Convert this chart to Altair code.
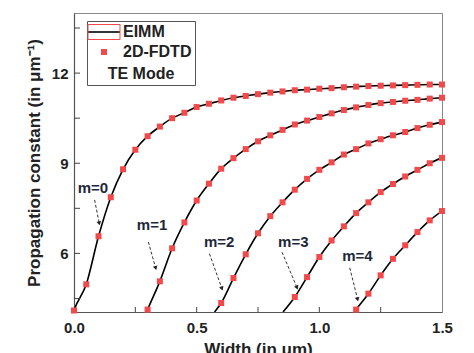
import altair as alt
import pandas as pd

FONT = "Liberation Sans"
RED = "#f24a4a"

# ---- 2D-FDTD markers ----
m0_x = [0.00, 0.05, 0.10, 0.15, 0.20, 0.25, 0.30, 0.35, 0.40, 0.45, 0.50, 0.55, 0.60, 0.65, 0.70, 0.75,
        0.80, 0.85, 0.90, 0.95, 1.00, 1.05, 1.10, 1.15, 1.20, 1.25, 1.30, 1.35, 1.40, 1.45, 1.50]
m0_y = [4.10, 4.97, 6.57, 7.87, 8.80, 9.45, 9.90, 10.22, 10.50, 10.68, 10.87, 10.98, 11.09, 11.18, 11.24, 11.30,
        11.35, 11.39, 11.43, 11.45, 11.48, 11.50, 11.53, 11.55, 11.57, 11.58, 11.59, 11.60, 11.61, 11.62, 11.62]

m1_x = [0.30, 0.35, 0.40, 0.45, 0.50, 0.55, 0.60, 0.65, 0.70, 0.75, 0.80, 0.85, 0.90, 0.95, 1.00, 1.05,
        1.10, 1.15, 1.20, 1.25, 1.30, 1.35, 1.40, 1.45, 1.50]
m1_y = [4.13, 5.07, 6.17, 7.03, 7.76, 8.32, 8.82, 9.17, 9.47, 9.73, 9.93, 10.11, 10.29, 10.42, 10.54, 10.66,
        10.77, 10.86, 10.94, 11.00, 11.04, 11.08, 11.11, 11.15, 11.18]

m2_x = [0.60, 0.65, 0.70, 0.75, 0.80, 0.85, 0.90, 0.95, 1.00, 1.05, 1.10, 1.15, 1.20, 1.25, 1.30, 1.35,
        1.40, 1.45, 1.50]
m2_y = [4.35, 5.18, 5.97, 6.67, 7.24, 7.70, 8.12, 8.48, 8.78, 9.03, 9.29, 9.47, 9.66, 9.80, 9.93, 10.04,
        10.17, 10.28, 10.37]

m3_x = [0.90, 0.95, 1.00, 1.05, 1.10, 1.15, 1.20, 1.25, 1.30, 1.35, 1.40, 1.45, 1.50]
m3_y = [4.55, 5.21, 5.88, 6.43, 6.90, 7.34, 7.70, 8.04, 8.31, 8.56, 8.78, 9.00, 9.18]

m4_x = [1.15, 1.20, 1.25, 1.30, 1.35, 1.40, 1.45, 1.50]
m4_y = [4.13, 4.66, 5.27, 5.82, 6.27, 6.71, 7.10, 7.41]

# ---- EIMM curves: cutoff widths where each curve leaves the bottom of the frame ----
modes = ["m=0", "m=1", "m=2", "m=3", "m=4"]
cutoff_x = [-0.002, 0.296, 0.573, 0.852, 1.143]
cutoff_y = [4.05, 4.05, 4.05, 4.05, 4.05]

# ---- annotations ----
label_x = [0.077, 0.318, 0.592, 0.894, 1.155]
label_y = [8.17, 6.93, 6.37, 6.37, 5.92]
arrow_x1 = [0.084, 0.303, 0.552, 0.848, 1.124]
arrow_y1 = [7.78, 6.38, 5.99, 6.04, 5.52]
arrow_x2 = [0.103, 0.333, 0.603, 0.909, 1.156]
arrow_y2 = [7.00, 5.51, 4.83, 4.86, 4.47]
arrow_angle = [347, 344, 340, 337, 346]

# ---- axes ----
x_ticks = [0.0, 0.5, 1.0, 1.5]
y_ticks = [6, 9, 12]
x_tick_marks = [0.25, 0.5, 0.75, 1.0, 1.25]
y_tick_marks = [4.5, 6, 7.5, 9, 10.5, 12, 13.5]
x_domain = [0.0, 1.5]
y_domain = [4.05, 14.0]

legend_labels = ["EIMM", "2D-FDTD"]
legend_box_labels = ["EIMM "]

W, H = 368, 299

xs = [m0_x, m1_x, m2_x, m3_x, m4_x]
ys = [m0_y, m1_y, m2_y, m3_y, m4_y]

pts = pd.DataFrame([{"mode": m, "x": x, "y": y}
                    for m, xl, yl in zip(modes, xs, ys) for x, y in zip(xl, yl)])
line_rows = []
for m, cx, cy, xl, yl in zip(modes, cutoff_x, cutoff_y, xs, ys):
    line_rows.append({"mode": m, "x": cx, "y": cy})
    line_rows += [{"mode": m, "x": x, "y": y} for x, y in zip(xl, yl)]
lines_df = pd.DataFrame(line_rows)

ann = pd.DataFrame({"label": modes, "lx": label_x, "ly": label_y,
                    "x1": arrow_x1, "y1": arrow_y1, "x2": arrow_x2, "y2": arrow_y2,
                    "ang": arrow_angle})

xscale = alt.Scale(domain=x_domain, nice=False, zero=False)
yscale = alt.Scale(domain=y_domain, nice=False, zero=False)

xaxis = alt.Axis(values=x_ticks, format=".1f", ticks=False, grid=False, labelFlush=False,
                 domainColor="#555", domainWidth=1.2,
                 labelFont=FONT, labelFontSize=15, labelFontWeight="bold", labelColor="#222",
                 labelPadding=8, title="Width (in μm)", titleFont=FONT, titleFontSize=17,
                 titleFontWeight="bold", titleColor="#222", titlePadding=6)
yaxis = alt.Axis(values=y_ticks, format="d", ticks=False, grid=False, labelFlush=False,
                 domainColor="#555", domainWidth=1.2,
                 labelFont=FONT, labelFontSize=15, labelFontWeight="bold", labelColor="#222",
                 labelPadding=6, title="Propagation constant (in μm⁻¹)", titleFont=FONT,
                 titleFontSize=17, titleFontWeight="bold", titleColor="#222", titlePadding=8)

lines = alt.Chart(lines_df).mark_line(color="black", strokeWidth=1.6, interpolate="monotone",
                                      clip=True).encode(
    x=alt.X("x:Q", scale=xscale, axis=xaxis),
    y=alt.Y("y:Q", scale=yscale, axis=yaxis),
    detail="mode:N",
)

points = alt.Chart(pts).mark_square(color=RED, size=36, opacity=1).encode(
    x="x:Q", y="y:Q")

xt = alt.Chart(pd.DataFrame({"t": x_tick_marks})).mark_rule(color="#444", strokeWidth=1).encode(
    x="t:Q", y=alt.value(H), y2=alt.value(H - 5))
yt = alt.Chart(pd.DataFrame({"t": y_tick_marks})).mark_rule(color="#444", strokeWidth=1).encode(
    y="t:Q", x=alt.value(0), x2=alt.value(6))

arrows = alt.Chart(ann).mark_rule(color="#333", strokeWidth=1, strokeDash=[3, 2]).encode(
    x="x1:Q", y="y1:Q", x2="x2:Q", y2="y2:Q")
heads = alt.Chart(ann).mark_point(shape="triangle-down", filled=True, color="#222", size=22,
                                  opacity=1).encode(
    x="x2:Q", y="y2:Q", angle=alt.Angle("ang:Q", scale=None))
labels = alt.Chart(ann).mark_text(font=FONT, fontSize=15, fontWeight="bold",
                                  color="#1e2838").encode(
    x="lx:Q", y="ly:Q", text="label:N")

common = dict(orient="none", legendX=13, legendY=8, labelFont=FONT, labelFontSize=16,
              labelFontWeight="bold", labelOffset=11, symbolOffset=6,
              symbolSize=36, rowPadding=4, padding=3)
leg = alt.Legend(title="TE Mode", titleOrient="bottom",
                 titleAnchor="middle", titleFont=FONT, titleFontSize=16, titleFontWeight="bold",
                 titleColor="#222", titlePadding=6, labelColor="#222",
                 symbolStrokeWidth=1.6, fillColor="white", strokeColor="#555", **common)
legend_layer = alt.Chart(pd.DataFrame({"label": legend_labels})).transform_filter(
    "false").mark_point(filled=True, size=36, strokeWidth=1.6, opacity=1).encode(
    shape=alt.Shape("label:N", scale=alt.Scale(domain=legend_labels,
                                               range=["M-5.33,0H5.33", "square"]), legend=leg),
    stroke=alt.Stroke("label:N", scale=alt.Scale(domain=legend_labels,
                                                 range=["black", "transparent"]), legend=leg),
    fill=alt.Fill("label:N", scale=alt.Scale(domain=legend_labels,
                                             range=["transparent", RED]), legend=leg),
)

leg_box = alt.Legend(title=None, labelColor="transparent", symbolStrokeWidth=1,
                     symbolFillColor="transparent", **common)
legend_box_layer = alt.Chart(pd.DataFrame({"box": legend_box_labels})).transform_filter(
    "false").mark_point(filled=False, size=36, strokeWidth=1, opacity=1).encode(
    shape=alt.Shape("box:N", scale=alt.Scale(domain=legend_box_labels,
                                             range=["M-5.33,-2.5H5.33V2.5H-5.33Z"]), legend=leg_box),
    stroke=alt.Stroke("box:N", scale=alt.Scale(domain=legend_box_labels, range=[RED]),
                      legend=leg_box),
)

chart = alt.layer(lines, points, xt, yt, arrows, heads, labels, legend_layer,
                  legend_box_layer).resolve_scale(
    shape="independent", stroke="independent", fill="independent"
).resolve_legend(
    shape="independent", stroke="independent", fill="independent"
).properties(
    width=W, height=H,
    padding={"left": 74, "top": 13, "right": 32, "bottom": 41},
    autosize=alt.AutoSizeParams(type="none"),
    background="white",
).configure_view(stroke="#888", strokeWidth=1)

chart.save("out.html", embed_options={"renderer": "svg", "actions": False})
